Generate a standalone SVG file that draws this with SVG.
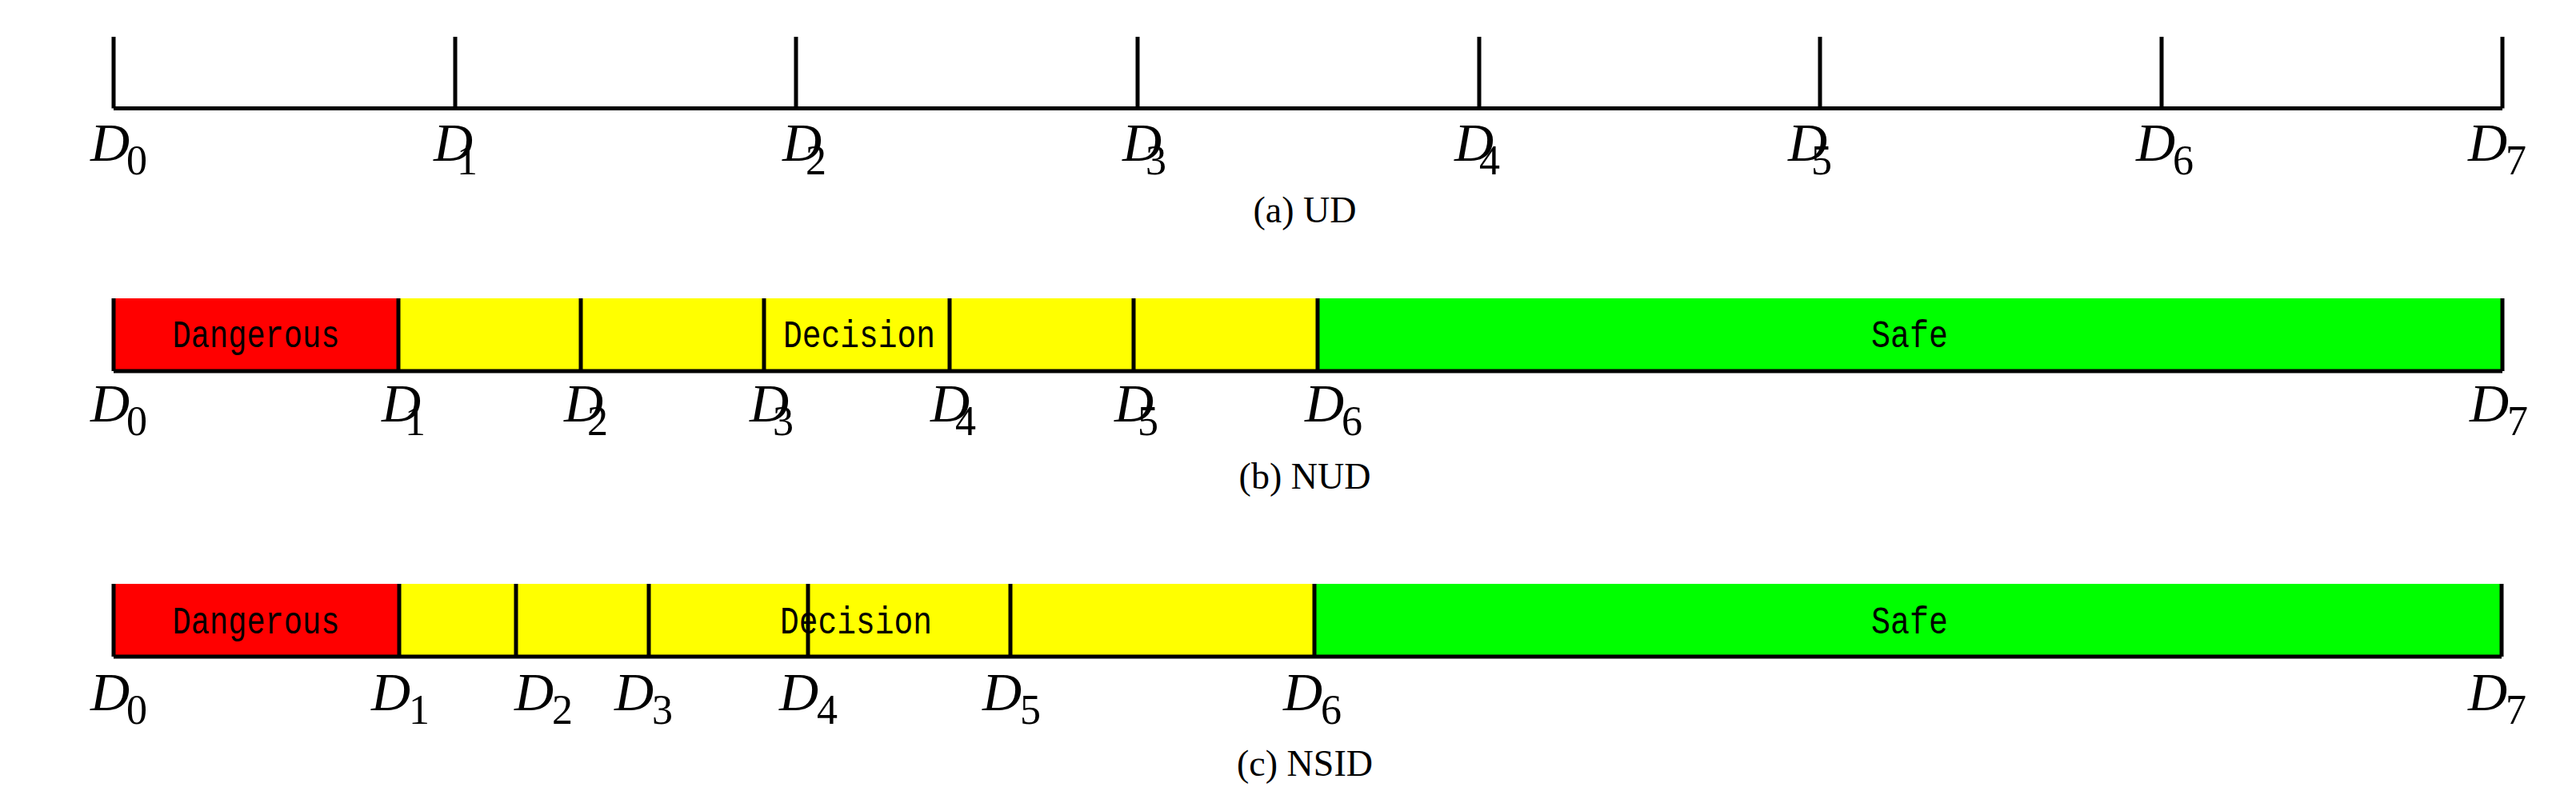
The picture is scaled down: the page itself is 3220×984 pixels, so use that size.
<svg xmlns="http://www.w3.org/2000/svg" width="3220" height="984" viewBox="0 0 3220 984">
<style>
.ln{stroke:#000;stroke-width:5;fill:none}
.D{font-family:"Liberation Serif",serif;font-style:italic;font-size:68px}
.s{font-family:"Liberation Serif",serif;font-size:52px}
.cap{font-family:"Liberation Serif",serif;font-size:46px;text-anchor:middle}
.in{font-family:"Liberation Mono",monospace;font-size:48px;text-anchor:middle}
</style>
<rect width="3220" height="984" fill="#fff"/>
<g id="axisA">
<path class="ln" d="M142,135.5H3128M142,46V135.5M569,46V135.5M995,46V135.5M1422,46V135.5M1849,46V135.5M2275,46V135.5M2702,46V135.5M3128,46V135.5"/>
<text class="D" x="113" y="201">D</text><text class="s" x="158" y="218">0</text>
<text class="D" x="542" y="201">D</text><text class="s" x="571" y="218">1</text>
<text class="D" x="978" y="201">D</text><text class="s" x="1007" y="218">2</text>
<text class="D" x="1403" y="201">D</text><text class="s" x="1432" y="218">3</text>
<text class="D" x="1818" y="201">D</text><text class="s" x="1849" y="218">4</text>
<text class="D" x="2235" y="201">D</text><text class="s" x="2264" y="218">5</text>
<text class="D" x="2670" y="201">D</text><text class="s" x="2716" y="218">6</text>
<text class="D" x="3085" y="201">D</text><text class="s" x="3132" y="218">7</text>
<text class="cap" x="1631" y="278">(a) UD</text>
</g>
<g id="barB">
<rect x="142" y="373" width="356" height="91" fill="#f00"/>
<rect x="498" y="373" width="1149" height="91" fill="#ff0"/>
<rect x="1647" y="373" width="1481" height="91" fill="#0f0"/>
<path class="ln" d="M142,464H3128M142,373V464M498,373V464M726,373V464M955,373V464M1187,373V464M1417,373V464M1647,373V464M3128,373V464"/>
<text class="in" x="320" y="434" textLength="209" lengthAdjust="spacingAndGlyphs">Dangerous</text>
<text class="in" x="1074" y="434" textLength="190" lengthAdjust="spacingAndGlyphs">Decision</text>
<text class="in" x="2387" y="434" textLength="96" lengthAdjust="spacingAndGlyphs">Safe</text>
<text class="D" x="113" y="527">D</text><text class="s" x="158" y="544">0</text>
<text class="D" x="477" y="527">D</text><text class="s" x="506" y="544">1</text>
<text class="D" x="705" y="527">D</text><text class="s" x="734" y="544">2</text>
<text class="D" x="937" y="527">D</text><text class="s" x="966" y="544">3</text>
<text class="D" x="1163" y="527">D</text><text class="s" x="1194" y="544">4</text>
<text class="D" x="1393" y="527">D</text><text class="s" x="1422" y="544">5</text>
<text class="D" x="1631" y="527">D</text><text class="s" x="1677" y="544">6</text>
<text class="D" x="3087" y="527">D</text><text class="s" x="3134" y="544">7</text>
<text class="cap" x="1631" y="611">(b) NUD</text>
</g>
<g id="barC">
<rect x="142" y="730" width="357" height="91" fill="#f00"/>
<rect x="499" y="730" width="1144" height="91" fill="#ff0"/>
<rect x="1643" y="730" width="1484" height="91" fill="#0f0"/>
<path class="ln" d="M142,821H3127M142,730V821M499,730V821M645,730V821M811,730V821M1010,730V821M1263,730V821M1643,730V821M3127,730V821"/>
<text class="in" x="320" y="792" textLength="209" lengthAdjust="spacingAndGlyphs">Dangerous</text>
<text class="in" x="1070" y="792" textLength="190" lengthAdjust="spacingAndGlyphs">Decision</text>
<text class="in" x="2387" y="792" textLength="96" lengthAdjust="spacingAndGlyphs">Safe</text>
<text class="D" x="113" y="888">D</text><text class="s" x="158" y="905">0</text>
<text class="D" x="464" y="888">D</text><text class="s" x="511" y="905">1</text>
<text class="D" x="643" y="888">D</text><text class="s" x="690" y="905">2</text>
<text class="D" x="768" y="888">D</text><text class="s" x="815" y="905">3</text>
<text class="D" x="974" y="888">D</text><text class="s" x="1021" y="905">4</text>
<text class="D" x="1228" y="888">D</text><text class="s" x="1275" y="905">5</text>
<text class="D" x="1604" y="888">D</text><text class="s" x="1651" y="905">6</text>
<text class="D" x="3085" y="888">D</text><text class="s" x="3132" y="905">7</text>
<text class="cap" x="1631" y="970">(c) NSID</text>
</g>
</svg>
